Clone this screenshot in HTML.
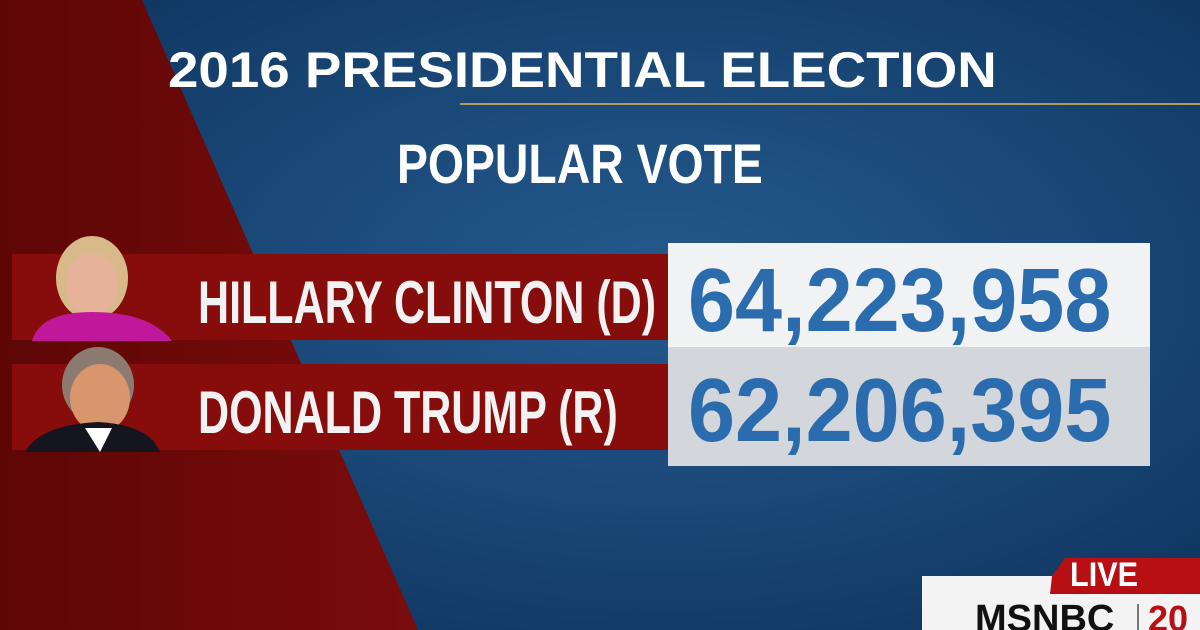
<!DOCTYPE html>
<html style="overflow:hidden;width:1200px;height:630px"><head><meta charset="utf-8"><style>
body{margin:0;width:1200px;height:630px;overflow:hidden;position:relative;font-family:"Liberation Sans",sans-serif;
background:radial-gradient(ellipse at 55% 45%,#245a8e 0%,#1b4a7a 40%,#123a66 75%,#0d2f57 100%);}
.t{position:absolute;white-space:nowrap;font-weight:bold;transform-origin:0 0;line-height:1.15;}
</style></head><body>
<svg width="1200" height="630" style="position:absolute;left:0;top:0">
<defs><linearGradient id="r" x1="0" y1="0" x2="1" y2="0"><stop offset="0" stop-color="#5e0606"/><stop offset="1" stop-color="#7a0c0c"/></linearGradient></defs>
<polygon points="0,0 142,0 418,630 0,630" fill="url(#r)"/>
<line x1="460" y1="104" x2="1200" y2="104" stroke="#b39a5a" stroke-width="2"/>
<rect x="12" y="254" width="658" height="86" fill="#870c0c"/>
<rect x="12" y="364" width="658" height="86" fill="#870c0c"/>
<rect x="668" y="243" width="482" height="104" fill="#f1f2f3"/>
<rect x="668" y="347" width="482" height="119" fill="#d3d6da"/>
<ellipse cx="92" cy="278" rx="36" ry="42" fill="#d8b98a"/>
<ellipse cx="92" cy="285" rx="26" ry="32" fill="#e6b39a"/>
<path d="M32,341 Q40,312 92,312 Q150,312 172,341Z" fill="#c0189a"/>
<ellipse cx="98" cy="385" rx="36" ry="38" fill="#8a7a70"/>
<ellipse cx="100" cy="398" rx="30" ry="34" fill="#d9966c"/>
<path d="M25,452 Q40,425 98,422 Q150,425 160,452Z" fill="#151520"/>
<path d="M85,428 L100,452 L112,428Z" fill="#fff"/>
<rect x="922" y="576" width="278" height="54" fill="#f3f3f3"/>
<polygon points="1065,558 1200,558 1200,594 1050,594 1052,576" fill="#b80f14"/>
<line x1="1138" y1="604" x2="1138" y2="630" stroke="#777" stroke-width="2"/>
</svg>
<div style="position:absolute;left:0;top:0;width:1200px;height:630px;overflow:hidden">
<div class="t" style="left:168px;top:42px;font-size:50px;color:#fff;transform:scaleX(1.094)">2016 PRESIDENTIAL ELECTION</div>
<div class="t" style="left:397px;top:132px;font-size:56px;color:#fff;transform:scaleX(0.828)">POPULAR VOTE</div>
<div class="t" style="left:198px;top:268px;font-size:60px;color:#f2f2f2;transform:scaleX(0.717)">HILLARY CLINTON (D)</div>
<div class="t" style="left:198px;top:378px;font-size:60px;color:#f2f2f2;transform:scaleX(0.717)">DONALD TRUMP (R)</div>
<div class="t" style="left:688px;top:250px;font-size:90px;color:#2b6cae;transform:scaleX(0.94)">64,223,958</div>
<div class="t" style="left:688px;top:360px;font-size:90px;color:#2b6cae;transform:scaleX(0.94)">62,206,395</div>
<div class="t" style="left:1070px;top:556px;font-size:34px;color:#fff;transform:scaleX(0.9)">LIVE</div>
<div class="t" style="left:975px;top:598px;font-size:38px;color:#111">MSNBC</div>
<div class="t" style="left:1148px;top:598px;font-size:36px;color:#b80f14">20</div>
</div>
</body></html>
